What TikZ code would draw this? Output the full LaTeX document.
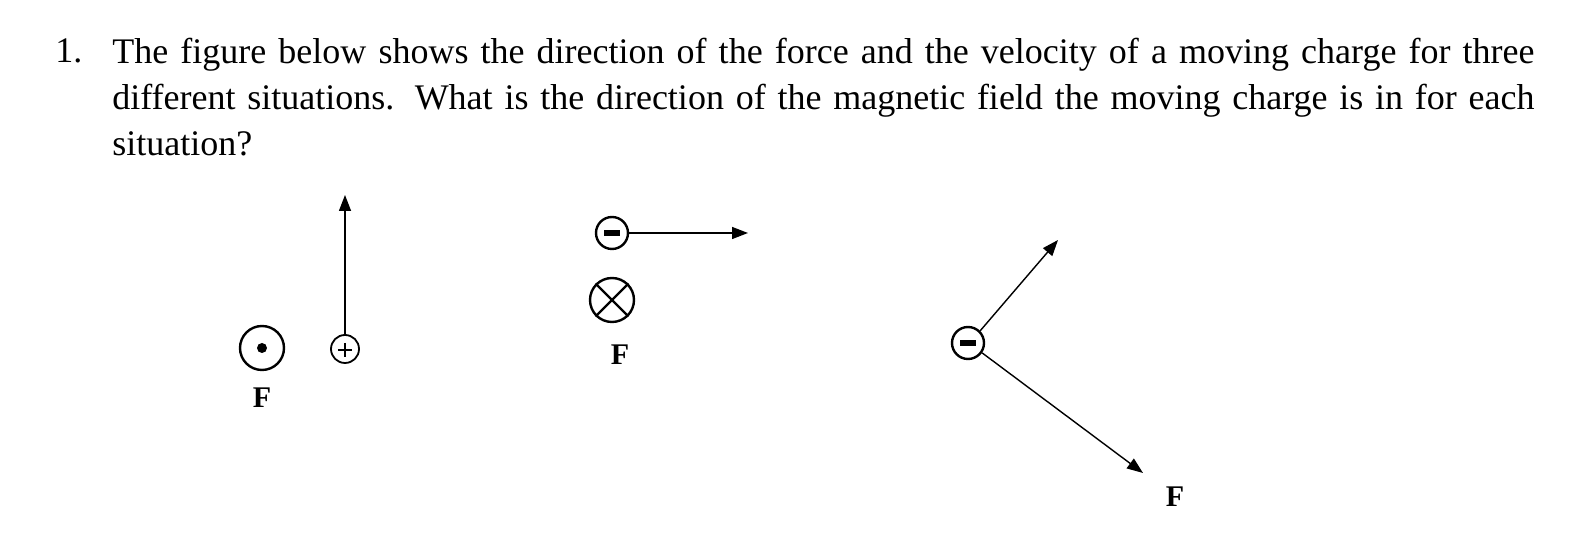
\documentclass[tikz,border=0pt]{standalone}
\usepackage{fontspec}
\setmainfont{Liberation Serif}
\usetikzlibrary{arrows.meta}
\begin{document}
\begin{tikzpicture}[x=0.5pt,y=-0.5pt,
  chg/.style={draw,line width=1.2pt,circle,inner sep=0pt},
  arr/.style={-{Triangle[length=8pt,width=6pt]},line width=0.7pt},
  lbl/.style={font=\fontsize{15}{18}\selectfont\bfseries,inner sep=0pt}]
\useasboundingbox (0,0) rectangle (1592,544);
\node[anchor=north west,inner sep=0pt,font=\fontsize{18}{23}\selectfont] (n1) at (55,38) {1.};
\node[anchor=north west,inner sep=0pt,text width=711pt,align=justify,font=\fontsize{18}{23}\selectfont] (q) at (112,38)
{The figure below shows the direction of the force and the velocity of a moving charge for three\linebreak different situations. What is the direction of the magnetic field the moving charge is in for each\linebreak situation?};
% situation 1
\node[chg,minimum size=22pt] (d1) at (262,348) {};
\fill (d1) circle (5);
\node[lbl] (f1) at (262,398) {F};
\node[chg,minimum size=14pt,line width=0.9pt] (p1) at (345,349) {};
\draw[line width=0.8pt] (338,350) -- (352,350) (345,343) -- (345,357);
\coordinate (v1) at (345,195);
\draw[arr] (p1.north) -- (v1);
% situation 2
\node[chg,minimum size=16pt] (m2) at (612,233) {};
\fill (604,230) rectangle (620,236);
\coordinate (v2) at (748,233);
\draw[arr] (m2.east) -- (v2);
\node[chg,minimum size=22pt] (x2) at (612,300) {};
\draw[line width=1.2pt] (x2.north west) -- (x2.south east) (x2.north east) -- (x2.south west);
\node[lbl] (f2) at (620,355) {F};
% situation 3
\node[chg,minimum size=16pt] (m3) at (968,343) {};
\fill (960,340) rectangle (976,346);
\coordinate (v3) at (1058,240);
\coordinate (fa3) at (1143,473);
\draw[arr] (m3.45) -- (v3);
\draw[arr] (m3.-35) -- (fa3);
\node[lbl] (f3) at (1175,497) {F};
\end{tikzpicture}
\end{document}
